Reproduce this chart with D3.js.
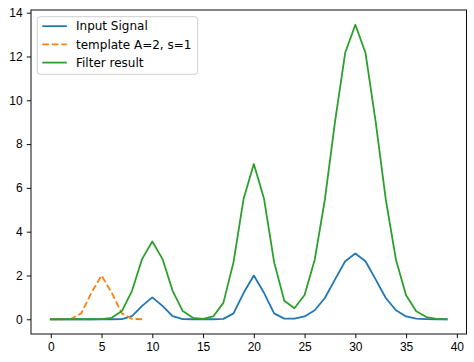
<!doctype html>
<html lang="en">
<head>
<meta charset="utf-8">
<script src="https://cdnjs.cloudflare.com/ajax/libs/d3/7.8.5/d3.min.js"></script>
<style>
  body { margin: 0; background: #fff; }
  svg { font-family: 'DejaVu Sans', sans-serif; }
  .axis text { font-size: 12px; fill: #000; }
  .axis path, .axis line { stroke: #000; stroke-width: 0.96px; }
</style>
</head>
<body>
<script>
// values
const inputSignal = [0, 0, 0, 0, 0, 0, 0, 0.01, 0.14, 0.61,
  1.0, 0.61, 0.14, 0.01, 0, 0, 0, 0.02, 0.27, 1.21,
  2.0, 1.21, 0.27, 0.03, 0.03, 0.13, 0.41, 0.97, 1.82, 2.65,
  3.0, 2.65, 1.82, 0.97, 0.41, 0.13, 0.03, 0.01, 0, 0];
const template = [0, 0, 0.02, 0.27, 1.21, 2.0, 1.21, 0.27, 0.02, 0];
const filterResult = [0, 0, 0, 0, 0, 0.01, 0.065, 0.375, 1.30, 2.76,
  3.55, 2.76, 1.30, 0.375, 0.065, 0.02, 0.13, 0.75, 2.61, 5.52,
  7.09, 5.52, 2.61, 0.85, 0.50, 1.11, 2.72, 5.47, 9.02, 12.17,
  13.45, 12.17, 9.02, 5.47, 2.72, 1.10, 0.37, 0.10, 0.02, 0];
const xTicks = [0, 5, 10, 15, 20, 25, 30, 35, 40];
const yTicks = [0, 2, 4, 6, 8, 10, 12, 14];

const series = [
  { name: "Input Signal", values: inputSignal, color: "#1f77b4", dash: null },
  { name: "template A=2, s=1", values: template, color: "#ff7f0e", dash: "6.6,2.9" },
  { name: "Filter result", values: filterResult, color: "#2ca02c", dash: null }
];

const w = 474, h = 362;
const padLeft = 31, padRight = 466.5, padTop = 10, padBottom = 334;

const svg = d3.select("body").append("svg")
  .attr("width", w)
  .attr("height", h);

const xScale = d3.scaleLinear().domain([-1.95, 40.95]).range([padLeft, padRight]);
const yScale = d3.scaleLinear().domain([-0.6725, 14.1225]).range([padBottom, padTop]);

// lines
const line = d3.line()
  .x((d, i) => xScale(i))
  .y(d => yScale(d));

svg.selectAll(".series")
  .data(series)
  .enter()
  .append("path")
  .attr("class", "series")
  .attr("d", d => line(d.values))
  .attr("fill", "none")
  .attr("stroke", d => d.color)
  .attr("stroke-width", 1.8)
  .attr("stroke-linejoin", "round")
  .attr("stroke-linecap", d => d.dash ? "butt" : "square")
  .attr("stroke-dasharray", d => d.dash);

// axes
const xAxis = d3.axisBottom(xScale).tickValues(xTicks).tickSize(4.2).tickPadding(4.2);
const yAxis = d3.axisLeft(yScale).tickValues(yTicks).tickSize(4.2).tickPadding(4.2);

svg.append("g")
  .attr("class", "axis")
  .attr("transform", "translate(0," + padBottom + ")")
  .call(xAxis)
  .call(g => g.select(".domain").remove());

svg.append("g")
  .attr("class", "axis")
  .attr("transform", "translate(" + padLeft + ",0)")
  .call(yAxis)
  .call(g => g.select(".domain").remove());

// frame
svg.append("rect")
  .attr("x", padLeft)
  .attr("y", padTop)
  .attr("width", padRight - padLeft)
  .attr("height", padBottom - padTop)
  .attr("fill", "none")
  .attr("stroke", "#000")
  .attr("stroke-width", 0.96);

// legend
const legend = svg.append("g").attr("transform", "translate(37.3,16.7)");
legend.append("rect")
  .attr("width", 160.4)
  .attr("height", 57.6)
  .attr("rx", 3)
  .attr("fill", "#fff")
  .attr("fill-opacity", 0.8)
  .attr("stroke", "#cccccc")
  .attr("stroke-width", 0.96);

const items = legend.selectAll(".item")
  .data(series)
  .enter()
  .append("g")
  .attr("class", "item")
  .attr("transform", (d, i) => "translate(0," + (9.5 + i * 18.2) + ")");

items.append("line")
  .attr("x1", 5)
  .attr("x2", 29.5)
  .attr("stroke", d => d.color)
  .attr("stroke-width", 1.8)
  .attr("stroke-dasharray", d => d.dash);

items.append("text")
  .attr("x", 38.7)
  .attr("dy", "0.35em")
  .attr("font-size", "12px")
  .text(d => d.name);
</script>
</body>
</html>
